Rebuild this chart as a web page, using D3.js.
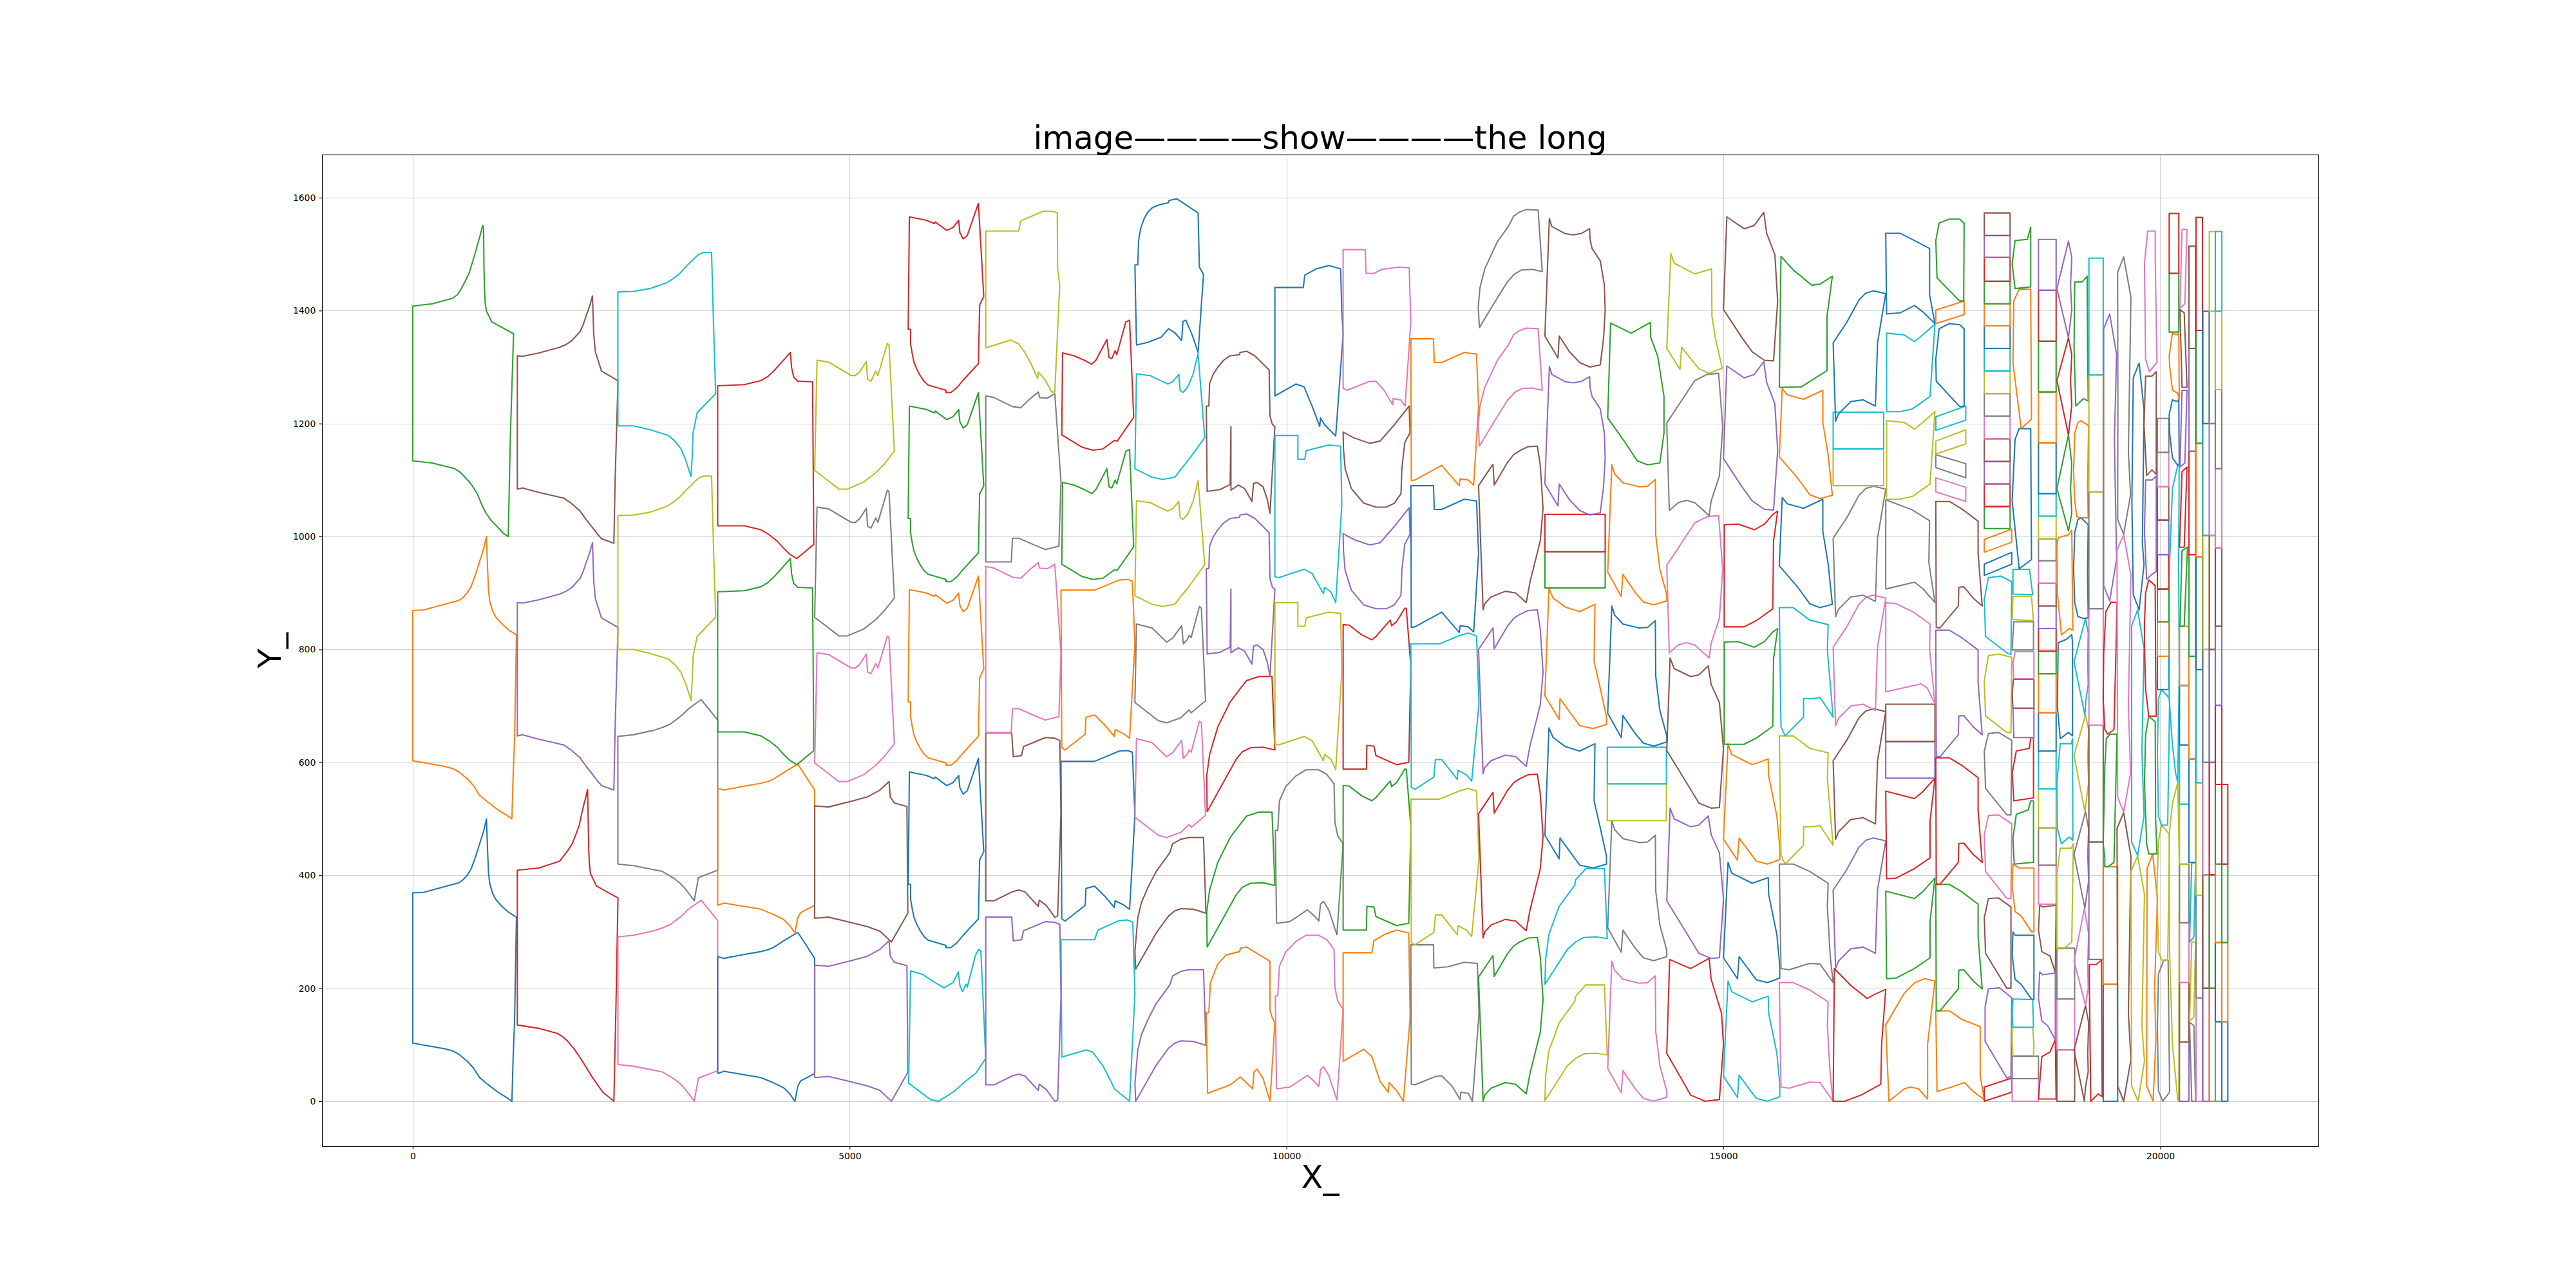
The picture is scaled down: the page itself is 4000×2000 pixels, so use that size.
<!DOCTYPE html>
<html><head><meta charset="utf-8">
<style>html,body{margin:0;padding:0;background:#fff}svg{display:block}text{font-family:"DejaVu Sans",sans-serif}</style>
<script src="https://cdn.jsdelivr.net/npm/d3@7/dist/d3.min.js"></script>
</head><body><div id="chart"></div>
<script>
const titleText = "image————show————the long";
const xLabel = "X_", yLabel = "Y_";
const xTicks = [0,5000,10000,15000,20000];
const yTicks = [0,200,400,600,800,1000,1200,1400,1600];
const xExtent = [0,20771], yExtent = [0,1596.5];

// outlines: [x, y] in data units
const c01a=[[0,369],[130,370],[365,380],[530,387],[575,392],[623,400],[670,412],[717,432],[764,455],[811,478],[844,500],[858,438],[868,403],[882,385],[914,368],[952,357],[1022,345],[1093,335],[1187,326],[1165,138],[1150,82],[1135,0],[1070,7],[975,16],[858,30],[764,42],[694,59],[623,71],[530,83],[459,89],[365,93],[0,103]];
const c01b=[[0,1408],[224,1412],[459,1422],[510,1428],[553,1438],[600,1452],[647,1467],[717,1503],[760,1527],[802,1551],[811,1543],[815,1480],[821,1438],[830,1412],[844,1399],[905,1380],[1154,1359],[1117,1176],[1093,1000],[1040,1005],[976,1016],[900,1028],[835,1042],[785,1058],[741,1075],[680,1090],[623,1101],[550,1113],[482,1120],[224,1130],[0,1134]];
const c02a=[[1197,409],[1446,413],[1681,425],[1775,444],[1825,456],[1869,473],[1908,490],[1940,514],[1975,535],[2001,552],[2015,443],[2022,420],[2034,403],[2104,381],[2349,360],[2326,170],[2302,0],[2240,8],[2175,16],[2120,28],[2057,42],[1985,60],[1916,77],[1850,92],[1775,106],[1720,114],[1658,120],[1446,129],[1197,135]];
const c02b=[[1197,1320],[1258,1319],[1446,1325],[1681,1335],[1755,1340],[1822,1347],[1916,1363],[1955,1377],[1987,1392],[2025,1408],[2057,1426],[2071,1359],[2090,1327],[2160,1293],[2349,1276],[2316,1098],[2302,988],[2230,992],[2161,996],[2110,1005],[2057,1016],[1985,1030],[1916,1045],[1820,1058],[1728,1068],[1446,1078],[1258,1086],[1197,1084]];
const c03a=[[2348,291],[2527,294],[2762,302],[2860,307],[2950,313],[3025,322],[3091,330],[3150,339],[3208,346],[3302,356],[3490,320],[3490,54],[3269,41],[3222,0],[3165,12],[3114,22],[3060,31],[2997,39],[2856,52],[2527,62],[2348,65]];
const c03b=[[2348,1433],[2527,1434],[2715,1439],[2903,1449],[2975,1456],[3044,1464],[3140,1480],[3232,1494],[3280,1500],[3326,1503],[3420,1503],[3443,1373],[3467,1253],[3255,1219],[3208,1183],[3199,1143],[3185,1106],[3125,1135],[3067,1156],[3000,1169],[2926,1179],[2820,1184],[2715,1189],[2527,1196],[2348,1196]];
const c04a=[[3490,256],[3561,253],[3796,260],[3984,265],[4060,268],[4125,272],[4195,279],[4266,286],[4340,293],[4407,299],[4600,253],[4600,49],[4440,36],[4407,27],[4374,0],[4310,14],[4243,24],[4110,34],[3984,42],[3561,53],[3490,49]];
const c04b=[[3490,902],[3796,904],[3984,911],[4060,918],[4125,927],[4225,944],[4322,961],[4336,934],[4360,917],[4407,910],[4576,909],[4590,621],[4396,596],[4312,604],[4240,615],[4171,627],[4080,638],[3984,647],[3796,654],[3490,654]];
const c05a=[[4600,241],[4759,239],[5018,249],[5206,257],[5347,269],[5451,284],[5465,257],[5512,246],[5656,240],[5666,51],[5478,0],[5347,19],[5206,27],[4924,38],[4759,44],[4600,42]];
const c05b=[[4627,794],[4759,791],[4877,780],[5018,767],[5065,767],[5112,773],[5192,792],[5206,760],[5244,757],[5300,775],[5324,767],[5432,824],[5451,821],[5512,633],[5394,610],[5300,595],[5159,578],[4971,566],[4877,566],[4600,599]];
const c06a=[[5698,231],[5830,225],[5947,213],[6079,201],[6183,210],[6244,229],[6262,205],[6291,194],[6333,207],[6347,202],[6361,211],[6441,259],[6479,269],[6502,266],[6558,76],[6441,49],[6347,38],[6183,16],[6018,0],[5924,3],[5675,32]];
const c06b=[[5684,1566],[5877,1560],[5971,1554],[5980,1557],[6112,1542],[6183,1547],[6248,1560],[6262,1538],[6300,1527],[6347,1533],[6418,1565],[6474,1590],[6535,1425],[6488,1410],[6474,1306],[6390,1292],[6300,1277],[6230,1264],[6159,1255],[6103,1255],[6103,1259],[5900,1268],[5850,1275],[5807,1285],[5770,1296],[5736,1309],[5715,1325],[5698,1341],[5698,1367],[5670,1367]];
const c07a=[[6558,652],[6855,652],[6873,610],[6967,612],[6991,628],[7240,644],[7343,643],[7405,639],[7419,511],[7381,328],[7348,326],[7249,347],[7170,356],[7160,345],[7005,371],[6935,374],[6864,371],[6653,355],[6558,355]];
const c07b=[[6558,1249],[6653,1246],[6864,1230],[6958,1228],[7052,1242],[7160,1256],[7174,1246],[7263,1245],[7348,1253],[7419,1096],[7395,983],[7240,977],[7099,986],[6935,997],[6864,997],[6850,955],[6558,955]];
const c07c=[[6558,1541],[6935,1541],[6958,1559],[7217,1576],[7311,1576],[7376,1573],[7381,1474],[7405,1445],[7348,1256],[7311,1256],[7240,1277],[7160,1291],[7151,1280],[7076,1306],[7005,1326],[6935,1341],[6841,1348],[6558,1334]];
const c08a=[[7419,286],[7804,286],[7842,303],[8086,320],[8180,321],[8241,317],[8265,191],[8204,0],[8030,22],[7992,35],[7898,63],[7781,87],[7710,91],[7428,78]];
const c08b=[[7419,905],[7804,905],[8086,923],[8180,924],[8236,921],[8265,809],[8204,643],[8133,651],[8039,658],[8030,646],[7921,666],[7804,684],[7705,680],[7696,650],[7466,622],[7428,626]];
const c08c=[[7437,1325],[7569,1320],[7687,1312],[7771,1305],[7818,1312],[7945,1349],[7969,1317],[8001,1315],[8039,1329],[8058,1322],[8086,1338],[8161,1380],[8204,1383],[8251,1211],[8063,1169],[8030,1170],[7898,1155],[7781,1153],[7663,1158],[7428,1180]];
const c09a=[[8274,234],[8509,298],[8650,328],[8720,337],[8791,341],[8932,340],[9078,333],[9050,467],[8885,467],[8791,464],[8697,456],[8664,440],[8509,407],[8415,379],[8340,352],[8298,325],[8265,265]];
const c09b=[[8283,845],[8462,838],[8627,813],[8697,820],[8800,842],[8819,810],[8862,817],[8885,825],[8909,821],[9003,876],[9026,873],[9073,709],[8909,688],[8885,693],[8791,679],[8627,670],[8533,674],[8265,706]];
const c09c=[[8283,1288],[8438,1285],[8641,1270],[8697,1274],[8768,1287],[8782,1259],[8815,1255],[8871,1265],[8932,1288],[8988,1324],[9064,1175],[8885,1137],[8721,1105],[8650,1103],[8580,1101],[8462,1105],[8265,1120]];
const c09d=[[8265,1481],[8298,1481],[8307,1524],[8330,1545],[8368,1562],[8410,1574],[8462,1582],[8540,1587],[8650,1591],[8655,1595],[8744,1598],[8988,1573],[9003,1477],[9050,1464],[8988,1326],[8918,1358],[8847,1383],[8815,1381],[8800,1347],[8721,1361],[8650,1368],[8565,1353],[8415,1344],[8283,1339]];
const c10a=[[9082,156],[9097,14],[9355,29],[9473,43],[9613,22],[9628,52],[9661,57],[9731,41],[9811,0],[9867,139],[9839,147],[9811,161],[9811,248],[9543,273],[9473,271],[9463,265],[9308,259],[9214,243],[9129,210],[9111,157]];
const c10b=[[9092,513],[9426,606],[9496,619],[9590,626],[9731,627],[9867,622],[9834,752],[9684,752],[9543,745],[9463,729],[9355,707],[9214,663],[9120,614],[9087,576]];
const c10c=[[9082,1231],[9111,1231],[9120,1271],[9160,1287],[9214,1300],[9280,1312],[9355,1320],[9463,1322],[9468,1326],[9543,1328],[9637,1320],[9801,1295],[9811,1213],[9839,1198],[9867,1195],[9811,1041],[9778,1067],[9731,1088],[9661,1096],[9623,1094],[9604,1062],[9520,1085],[9449,1091],[9364,1082],[9364,1195],[9355,1092],[9237,1083],[9092,1080]];
const c11a=[[9886,315],[10036,318],[10154,330],[10239,339],[10319,328],[10370,319],[10389,349],[10422,354],[10483,339],[10577,295],[10648,456],[10586,470],[10554,494],[10544,562],[10460,579],[10366,587],[10225,587],[10107,576],[9990,557],[9919,532],[9900,480],[9872,479]];
const c11b=[[9867,1179],[10130,1179],[10130,1137],[10210,1137],[10225,1152],[10483,1162],[10619,1160],[10633,1056],[10563,883],[10507,902],[10436,910],[10422,899],[10295,934],[10201,942],[9910,927],[9867,929]];
const c11c=[[9867,1441],[10192,1441],[10210,1463],[10342,1474],[10483,1480],[10619,1474],[10633,1399],[10648,1358],[10563,1178],[10436,1198],[10389,1210],[10380,1195],[10295,1230],[10201,1265],[10107,1270],[9867,1249]];
const c12a=[[10648,263],[10977,263],[11000,284],[11117,295],[11259,303],[11399,298],[11415,150],[11338,0],[11259,19],[11174,33],[11165,16],[11071,35],[10977,79],[10883,92],[10648,71]];
const c12b=[[10648,844],[10718,843],[10859,826],[10977,817],[11024,823],[11188,852],[11202,842],[11259,849],[11353,873],[11371,873],[11423,770],[11399,600],[11259,596],[11024,612],[11000,629],[10920,630],[10915,588],[10648,588]];
const c12c=[[10648,1185],[10765,1175],[10953,1165],[11071,1169],[11235,1198],[11404,1231],[11414,1184],[11353,1166],[11320,1120],[11310,1076],[11235,1059],[11141,1052],[11024,1052],[10883,1059],[10742,1085],[10671,1120],[10652,1155]];
const c12d=[[10648,1508],[10901,1508],[10911,1466],[11000,1466],[11094,1473],[11282,1477],[11404,1476],[11423,1381],[11357,1231],[11305,1242],[11221,1244],[11216,1233],[11117,1259],[11024,1275],[10953,1275],[10695,1259],[10648,1262]];
const c13a=[[11423,277],[11682,277],[11686,236],[11846,238],[12034,246],[12184,244],[12203,156],[12128,0],[12081,14],[11996,16],[11987,3],[11893,27],[11776,45],[11705,44],[11470,29],[11428,30]];
const c13b=[[11423,535],[11752,535],[11987,550],[12081,554],[12175,549],[12203,429],[12119,292],[12058,303],[11963,311],[11954,295],[11776,330],[11705,330],[11686,299],[11470,277],[11428,281]];
const c13c=[[11423,1350],[11682,1350],[11691,1308],[11776,1308],[12034,1326],[12175,1323],[12198,1230],[12142,1091],[12081,1100],[11987,1102],[11977,1090],[11776,1126],[11470,1100],[11428,1099]];
const c14a=[[12198,1090],[12363,1128],[12377,1091],[12528,1131],[12600,1145],[12669,1152],[12763,1159],[12871,1160],[12904,1126],[12936,1050],[12904,992],[12786,919],[12744,883],[12622,900],[12504,903],[12340,893],[12269,881],[12250,870]];
const c14b=[[12208,1370],[12363,1410],[12528,1451],[12610,1465],[12692,1472],[12810,1473],[12927,1469],[12880,1578],[12739,1579],[12660,1574],[12598,1567],[12542,1550],[12410,1521],[12269,1474],[12213,1440],[12194,1405]];
const c15a=[[12957,1],[13215,63],[13310,76],[13403,84],[13544,85],[13671,82],[13638,206],[13427,206],[13309,186],[13300,177],[13121,139],[13004,90],[12966,46]];
const c15b=[[13004,661],[13051,644],[13192,628],[13356,620],[13530,633],[13520,532],[13591,484],[13662,434],[13662,420],[13511,413],[13356,418],[13130,466],[13121,429],[12957,471]];
const c15c=[[13008,1563],[13036,1549],[13192,1536],[13286,1534],[13380,1537],[13469,1545],[13474,1526],[13497,1510],[13591,1488],[13638,1445],[13647,1401],[13629,1352],[13591,1304],[13474,1300],[13356,1308],[13239,1327],[13121,1355],[13107,1316],[12957,1355]];
const c16a=[[13723,248],[13755,232],[13850,216],[14038,209],[14132,210],[14221,222],[14226,123],[14273,63],[14352,18],[14352,7],[14202,0],[14085,5],[13991,22],[13850,54],[13831,15],[13676,58]];
const c16b=[[13709,1378],[13944,1360],[14164,1379],[14169,1352],[14249,1319],[14320,1248],[14320,1183],[14272,1130],[14132,1127],[14014,1134],[13873,1167],[13676,1210]];
const c17a=[[14385,251],[14625,235],[14837,253],[14860,216],[14978,156],[15001,101],[14954,3],[14790,0],[14625,11],[14352,85]];
const c17b=[[14390,519],[14437,500],[14625,486],[14719,489],[14827,505],[14860,472],[14954,440],[15001,358],[14954,254],[14860,253],[14719,262],[14602,292],[14352,355]];
const c17c=[[14352,1201],[14531,1243],[14672,1276],[14813,1287],[14945,1289],[14992,1194],[14954,1107],[14860,1063],[14837,1037],[14672,1060],[14578,1064],[14484,1060],[14381,1046]];
const c17d=[[14399,1501],[14437,1484],[14672,1465],[14865,1474],[14869,1390],[14907,1352],[14987,1298],[14837,1289],[14719,1297],[14522,1335],[14503,1296],[14352,1333]];
const c18a=[[15053,213],[15095,194],[15330,176],[15513,186],[15518,156],[15612,85],[15645,30],[15645,8],[15504,0],[15377,5],[15180,46],[15161,7],[15001,44]];
const c18b=[[15010,1021],[15166,1022],[15354,1012],[15471,1022],[15565,1039],[15621,1045],[15574,992],[15565,872],[15377,851],[15236,840],[15010,840]];
const c18c=[[15039,1566],[15236,1545],[15354,1551],[15462,1574],[15495,1537],[15589,1499],[15621,1417],[15574,1311],[15471,1312],[15330,1327],[15213,1352],[15001,1402]];
const c19a=[[15640,210],[15800,210],[15988,197],[16199,176],[16190,134],[16223,46],[16256,0],[16106,33],[15988,34],[15753,23],[15659,25]];
const c19b=[[15640,647],[15800,647],[15988,625],[16199,617],[16190,571],[16256,453],[16106,488],[16030,486],[15917,486],[15917,453],[15706,420],[15659,436]];
const c19c=[[15673,1069],[15730,1058],[15918,1050],[16138,1066],[16138,1009],[16200,950],[16247,880],[16106,874],[15988,881],[15847,911],[15640,948]];
const c19d=[[15659,1496],[15800,1472],[16012,1445],[16106,1447],[16247,1461],[16186,1390],[16186,1294],[15894,1265],[15640,1264]];
const c20a=[[16270,235],[16458,205],[16646,182],[16740,190],[16858,198],[16811,101],[16801,30],[16576,11],[16388,0],[16256,0]];
const c20b=[[16256,374],[16411,410],[16552,450],[16630,462],[16717,466],[16858,461],[16764,374],[16740,262],[16599,273],[16458,270],[16317,248],[16284,235]];
const c21a=[[16895,0],[17069,22],[17140,25],[17234,22],[17337,4],[17337,101],[17421,213],[17304,217],[17187,210],[17069,191],[16858,135]];
const c21b=[[16858,372],[17187,359],[17281,371],[17421,395],[17365,319],[17365,254],[17187,235],[16975,218],[16868,217]];
const c21c=[[16858,883],[16975,881],[17165,867],[17365,845],[17360,800],[17421,704],[17332,732],[17262,739],[16858,725]];
const c21d=[[16858,1065],[17163,1047],[17360,1028],[17351,954],[17421,883],[17281,908],[17187,919],[16858,907]];
const c21e=[[16868,1205],[17069,1202],[17187,1190],[17281,1202],[17421,1221],[17365,1093],[17163,1071],[17022,1066],[16868,1066]];
const c21f=[[16858,1537],[17022,1537],[17163,1526],[17360,1510],[17360,1428],[17421,1377],[17281,1398],[17187,1409],[17022,1396],[16868,1394]];
const c22a=[[17431,160],[17586,160],[17727,145],[17939,132],[17939,46],[17986,3],[17868,16],[17760,33],[17610,25],[17445,17]];
const c22b=[[17431,384],[17586,384],[17727,371],[17915,349],[17915,292],[17962,199],[17859,213],[17751,233],[17694,232],[17689,199],[17478,160],[17436,161]];
const c22c=[[17431,1104],[17774,1087],[17774,1062],[17431,1079]];
const c22d=[[17431,1145],[17774,1129],[17774,1104],[17431,1122]];
const c22e=[[17431,1169],[17774,1189],[17774,1164],[17431,1146]];
const c22f=[[17431,1212],[17774,1231],[17774,1206],[17431,1188]];
const c22g=[[17469,1368],[17586,1377],[17704,1375],[17755,1368],[17755,1231],[17704,1230],[17436,1275],[17431,1314]];
const c22h=[[17431,1401],[17755,1417],[17755,1393],[17431,1377]];
const c22i=[[17469,1555],[17586,1562],[17704,1562],[17755,1555],[17750,1417],[17704,1417],[17445,1458],[17431,1524]];
const c23a=[[17986,25],[18300,41],[18300,16],[17986,0]];
const c23b=[[17995,106],[17995,167],[18033,199],[18159,201],[18300,183],[18291,44],[18244,41]];
const c23c=[[18033,359],[18150,360],[18291,344],[18291,200],[18244,200],[18000,262],[17986,325]];
const c23d=[[18033,506],[18150,507],[18300,491],[18291,359],[18244,359],[18000,407],[17986,472]];
const c23e=[[18033,651],[18150,653],[18300,639],[18291,507],[18244,507],[18000,554],[17986,620]];
const c23f=[[18033,789],[18150,792],[18300,786],[18291,653],[18244,653],[18000,682],[17986,745]];
const c23g=[[18033,927],[18174,930],[18300,920],[18291,791],[18244,794],[18000,823],[17986,889]];
const c23h=[[17986,951],[18300,972],[18300,951],[17986,931]];
const c23i=[[17986,995],[18300,1013],[18300,990],[17986,972]];
const c24a=[[18305,131],[18540,131],[18554,100],[18549,81],[18314,81],[18305,100]];
const c24b=[[18314,181],[18540,180],[18549,131],[18314,131],[18305,155]];
const c24c=[[18314,300],[18338,294],[18554,294],[18554,180],[18526,181],[18408,207],[18338,216],[18305,259]];
const c24d=[[18314,420],[18385,413],[18554,413],[18554,300],[18526,300],[18408,328],[18338,336],[18305,380]];
const c24e=[[18328,420],[18549,423],[18549,532],[18517,532],[18489,516],[18352,508],[18314,466]];
const c24f=[[18324,532],[18549,537],[18549,644],[18517,644],[18503,625],[18352,620],[18305,581]];
const c24g=[[18324,644],[18554,644],[18554,696],[18314,696]];
const c24h=[[18314,696],[18554,696],[18554,747],[18320,747],[18305,720]];
const c24i=[[18324,748],[18554,748],[18554,796],[18338,796],[18314,775]];
const c24j=[[18324,849],[18549,849],[18549,799],[18305,799],[18314,825]];
const c24k=[[18314,894],[18526,894],[18549,851],[18305,853]];
const c24l=[[18314,942],[18503,942],[18540,897],[18314,898]];
const c24m=[[18338,1172],[18385,1191],[18517,1191],[18526,959],[18385,943],[18305,1063]];
const c24n=[[18324,1417],[18385,1438],[18517,1438],[18526,1208],[18408,1191],[18314,1308]];
const c24o=[[18338,1524],[18479,1526],[18517,1548],[18517,1442],[18338,1439],[18305,1483]];
const c25a=[[18620,4],[18808,4],[18799,109],[18738,87],[18644,79],[18606,4]];
const c25b=[[18620,229],[18653,224],[18799,227],[18799,109],[18710,134],[18644,142],[18606,183]];
const c25c=[[18620,347],[18653,344],[18808,347],[18799,228],[18738,257],[18644,265],[18606,303]];
const c26a=[[18817,270],[18892,270],[18987,282],[19005,456],[18982,448],[18855,448],[18817,401],[18817,319]];
const c26b=[[18855,633],[18982,633],[18996,642],[19000,462],[18958,468],[18869,456],[18822,483],[18817,565]];
const c26c=[[18831,812],[18925,818],[18987,826],[18996,811],[18996,647],[18949,653],[18855,642],[18822,700]];
const c26d=[[18831,998],[18949,1003],[18987,1011],[19000,834],[18958,837],[18869,826],[18822,900],[18817,981]];
const c26e=[[18949,1180],[18987,1129],[18973,1085],[18987,1041],[18949,1010],[18817,1085]];
const c26f=[[18949,1352],[18987,1322],[18973,1276],[18987,1232],[18949,1180],[18817,1276]];
const c26g=[[18949,1523],[18987,1494],[18973,1445],[18987,1401],[18949,1352],[18817,1439]];
const c27a=[[19144,170],[19180,139],[19170,85],[19175,52],[19144,25],[19131,0],[19013,90]];
const c27b=[[19131,341],[19180,297],[19170,243],[19175,199],[19144,170],[19013,248]];
const c27c=[[19144,513],[19180,482],[19170,437],[19180,390],[19137,342],[19013,437]];
const c27d=[[19144,684],[19180,658],[19170,609],[19180,565],[19137,513],[19013,612]];
const c27e=[[19144,855],[19175,829],[19170,780],[19175,738],[19147,708],[19137,684],[19013,778]];
const c27f=[[19094,1033],[19058,1030],[19021,1007],[19008,943],[19021,883],[19058,858],[19119,855],[19175,856],[19168,936],[19175,1021]];
const c27g=[[19094,1205],[19058,1202],[19021,1183],[19008,1116],[19021,1063],[19045,1035],[19094,1033],[19175,1033],[19168,1090],[19180,1196]];
const c27h=[[19021,1451],[19107,1451],[19163,1461],[19168,1335],[19175,1240],[19119,1244],[19033,1231],[19013,1335]];
const c28a=[[19188,242],[19266,242],[19328,250],[19335,8],[19291,13],[19205,0],[19188,210]];
const c29a=[[19365,416],[19397,415],[19470,423],[19505,650],[19426,650],[19382,642],[19365,592],[19347,456],[19365,431]];
const c29b=[[19397,650],[19470,658],[19495,811],[19505,883],[19438,884],[19377,867],[19352,791],[19347,712],[19365,658]];
const c29c=[[19421,1394],[19500,1322],[19475,1172],[19500,960],[19421,886],[19352,913],[19352,1145],[19352,1368]];
const c30a=[[19581,511],[19664,434],[19635,156],[19664,74],[19581,0],[19512,27],[19505,483]];
const c30b=[[19581,1003],[19664,932],[19635,700],[19660,581],[19581,512],[19512,538],[19505,976]];
const c30c=[[19581,1495],[19664,1424],[19635,1150],[19660,1074],[19581,1004],[19512,1030],[19515,1227],[19512,1468]];
const c31a=[[19741,434],[19819,366],[19790,134],[19819,71],[19746,0],[19672,27],[19664,407]];
const c31b=[[19741,870],[19814,802],[19790,620],[19814,505],[19741,435],[19672,459],[19672,842]];
const c31c=[[19758,1307],[19814,1224],[19795,987],[19814,951],[19758,870],[19691,897],[19675,1060],[19691,1281]];
const c32a=[[19913,438],[19967,358],[19935,200],[19950,110],[19918,0],[19844,27],[19849,412]];
const c32b=[[19868,682],[19942,672],[19947,500],[19962,438],[19868,438],[19844,456],[19819,565],[19832,649]];
const c32c=[[19868,923],[19942,913],[19947,760],[19954,682],[19868,682],[19832,729],[19819,811],[19819,845],[19832,900]];
const c32d=[[19832,1100],[19893,1100],[19905,1100],[19954,1107],[19954,938],[19905,933],[19844,924],[19819,1009]];
const c32e=[[19832,1284],[19905,1284],[19954,1292],[19954,1110],[19905,1118],[19844,1108],[19814,1199]];
const c32f=[[19856,1541],[19942,1541],[19942,1491],[19962,1308],[19876,1292],[19832,1314],[19819,1483]];
const c33a=[[20040,250],[20090,250],[20107,16],[20028,0],[19979,19],[19967,128],[19979,225]];
const c33b=[[20016,489],[20107,472],[20085,250],[20016,250],[19979,265],[19962,374],[19979,461]];
const c33c=[[20016,729],[20107,713],[20085,489],[20016,489],[19979,505],[19967,620],[19979,713]];
const c34a=[[20102,472],[20139,527],[20200,565],[20217,429],[20212,0],[20200,3],[20139,101],[20107,265]];
const c34b=[[20200,1126],[20139,1085],[20107,954],[20102,713],[20139,631],[20175,581],[20200,565],[20217,756],[20210,950],[20217,1129]];
const c34c=[[20139,1242],[20188,1239],[20212,1242],[20217,1129],[20200,1126],[20139,1139],[20107,1183],[20102,1216]];
const c34d=[[20139,1360],[20188,1357],[20212,1360],[20217,1243],[20200,1254],[20139,1259],[20107,1303],[20102,1319]];
const c35a=[[20225,841],[20274,841],[20311,981],[20249,975]];
const c35b=[[20220,981],[20274,981],[20306,1123],[20249,1115]];
const c35c=[[20225,1123],[20281,1130],[20306,1259],[20249,1259]];
const c35d=[[20225,1402],[20274,1396],[20306,1264],[20249,1264]];
const c35e=[[20249,1544],[20306,1544],[20281,1412],[20225,1404]];
const c36a=[[20360,0],[20404,0],[20384,134],[20335,140]];
const c36b=[[20335,142],[20384,149],[20404,282],[20360,282]];
const c36c=[[20335,282],[20384,291],[20404,422],[20360,422]];

// stacked boxes: left x, right x, edges from bottom to top
const box15=[12957,13647,[909,973,1039]];
const box16=[13671,14348,[497,562,627]];
const box20=[16256,16834,[1090,1155,1220]];
const box21=[16858,17421,[572,637,703]];
const box23=[17986,18281,[1014,1053,1093,1133,1173,1213,1253,1293,1333,1373,1412,1452,1494,1533,1573]];
const box24=[18305,18606,[0,40,80]];
const box25=[18606,18808,[349,418,484,553,620,688,757,797,837,877,917,957,996,1036,1076,1166,1256,1346,1436,1526]];
const box26=[18817,19020,[0,91,181,271]];
const box28=[19183,19347,[251,459,666,872,1079,1286,1493]];
const box29=[19347,19512,[0,207,415]];
const box33=[19967,20097,[729,788,849,907,968,1029,1088,1149,1209]];
const box34=[20102,20212,[1362,1466,1572]];
const box35=[20220,20328,[0,105,210,316,420,526,631,736,841]];
const box36=[20328,20404,[423,606,788,968,1151,1333,1514]];
const box37=[20409,20483,[0,183,365,564,764,964,1165,1365,1565]];
const box38=[20487,20561,[0,200,401,600,800,1002,1200,1399]];
const box39=[20561,20630,[0,200,401,600,800,1002,1200,1399,1540]];
const box40=[20630,20704,[0,141,281,420,561,701,841,980,1120,1260,1399,1540]];
const box41=[20704,20773,[0,141,281,420,561]];

// drawing order: [outline, vertical shifts]; colours follow the cycle
const drawOrder=[
[c01a,0,500],[c01b,0],[c02a,0],[c02b,-437,0],[c03a,0,355],[c03b,-396,0],[c04a,0,298],[c04b,0,365],
[c05a,0,282],[c05b,0,258,518],[c06a,0],[c06b,-983,-660,-335,0],[c07a,-326,0],[c07b,-302,0],[c07c,0],
[c08a,0],[c08b,-303,0],[c08c,-229,0],[c09a,-234,0],[c09b,-203,0],[c09c,-225,0],[c09d,0],
[c10a,0],[c10b,-240,0],[c10c,-288,0],[c11a,-293,0],[c11b,-296,0],[c11c,0],
[c12a,0],[c12b,-285,0],[c12c,-180,0],[c12d,0],[c13a,0],[c13b,0,275],[c13c,-260,0],
[c14a,-870,-581,-290,0],[c14b,-210,0],[c15a,0,206],[c15b,0,247],box15,[c15c,-262,0],
[c16a,0,249],box16,[c16a,629,879],[c16b,0],[c17a,0],[c17b,0,266],[c17c,-252,0],[c17d,0],
[c18a,0,210,420],[c18b,-208,0],[c18c,-264,0],[c19a,0,210],[c19b,0,227],[c19c,0,193],[c19d,0],
[c20a,0],[c20b,0,229,430,623],box20,[c20b,969],[c21a,0],[c21b,0,177],box21,[c21c,0],[c21d,0],[c21e,0,155],[c21f,0],
[c22a,0],[c22b,0,224,450,678],[c22c,0],[c22d,0],[c22e,0],[c22f,0],[c22g,0],[c22h,0],[c22i,0],
[c23a,0],[c23b,0],[c23c,0],[c23d,0],[c23e,0],[c23f,0],[c23g,0],[c23h,0],[c23i,0],box23,
box24,[c24a,0],[c24b,0],[c24c,0],[c24d,0],[c24e,0],[c24f,0],[c24g,0],[c24h,0],[c24i,0],[c24j,0],[c24k,0],[c24l,0],[c24m,0],[c24n,0],[c24o,0],
[c25a,0],[c25b,0],[c25c,0],box25,box26,[c26a,0],[c26b,0],[c26c,0],[c26d,0],[c26e,0],[c26f,0],[c26g,0],
[c27a,0],[c27b,0],[c27c,0],[c27d,0],[c27e,0],[c27f,0],[c27g,0],[c27h,0],[c28a,0],box28,box29,[c29a,0],[c29b,0],[c29c,0],
[c30a,0],[c30b,0],[c30c,0],[c31a,0],[c31b,0],[c31c,0],[c32a,0],[c32b,0],[c32c,0],[c32d,0],[c32e,0],[c32f,0],
[c33a,0],[c33b,0],[c33c,0],box33,[c34a,0],[c34b,0],[c34c,0],[c34d,0],box34,box35,[c35a,0],[c35b,0],[c35c,0],[c35d,0],[c35e,0],
[c36a,0],[c36b,0],[c36c,0],box36,box37,box38,box39,box40,box41
];

const W=4000,H=2000,L=500,R=3600,T=240,B=1780;
const xPad=(xExtent[1]-xExtent[0])*0.05, yPad=(yExtent[1]-yExtent[0])*0.05;
const x=d3.scaleLinear().domain([xExtent[0]-xPad,xExtent[1]+xPad]).range([L,R]);
const y=d3.scaleLinear().domain([yExtent[0]-yPad,yExtent[1]+yPad]).range([B,T]);

const outlines=[];
drawOrder.forEach(item=>{
  if(typeof item[0]==="number"){
    const [x0,x1,ys]=item;
    for(let i=0;i<ys.length-1;i++) outlines.push([[x0,ys[i]],[x1,ys[i]],[x1,ys[i+1]],[x0,ys[i+1]]]);
  } else {
    const [pts,...shifts]=item;
    shifts.forEach(s=>outlines.push(pts.map(p=>[p[0],p[1]+s])));
  }
});

const svg=d3.select("#chart").append("svg").attr("width",W).attr("height",H);
const grid="#b0b0b0";
svg.append("g").selectAll("line").data(xTicks).join("line")
  .attr("x1",d=>Math.round(x(d))+.5).attr("x2",d=>Math.round(x(d))+.5).attr("y1",T).attr("y2",B)
  .attr("stroke",grid).attr("stroke-opacity",.6).attr("stroke-width",1.1);
svg.append("g").selectAll("line").data(yTicks).join("line")
  .attr("y1",d=>Math.round(y(d))+.5).attr("y2",d=>Math.round(y(d))+.5).attr("x1",L).attr("x2",R)
  .attr("stroke",grid).attr("stroke-opacity",.6).attr("stroke-width",1.1);

const line=d3.line().x(d=>x(d[0])).y(d=>y(d[1])).curve(d3.curveLinearClosed);
svg.append("g").attr("fill","none").attr("stroke-width",2.08).attr("stroke-linejoin","round")
  .selectAll("path").data(outlines).join("path")
  .attr("d",line).attr("stroke",(d,i)=>d3.schemeCategory10[i%10]);

const ax=svg.append("g").attr("transform",`translate(0,${B})`)
  .call(d3.axisBottom(x).tickValues(xTicks).tickFormat(d3.format("d")).tickSize(4.86).tickPadding(4.86));
const ay=svg.append("g").attr("transform",`translate(${L},0)`)
  .call(d3.axisLeft(y).tickValues(yTicks).tickFormat(d3.format("d")).tickSize(4.86).tickPadding(4.86));
[ax,ay].forEach(g=>{
  g.select(".domain").remove();
  g.selectAll("line").attr("stroke","#000").attr("stroke-width",1.1);
  g.selectAll("text").attr("fill","#000").style("font-size","13.9px").style("font-family",'"DejaVu Sans"');
});
svg.append("rect").attr("x",L+.5).attr("y",T+.5).attr("width",R-L).attr("height",B-T)
  .attr("fill","none").attr("stroke","#000").attr("stroke-width",1.1);

svg.append("text").attr("x",(L+R)/2).attr("y",231).attr("text-anchor","middle").style("font-size","50px").text(titleText);
svg.append("text").attr("x",(L+R)/2).attr("y",1845).attr("text-anchor","middle").style("font-size","50px").text(xLabel);
svg.append("text").attr("transform",`translate(436,${(T+B)/2}) rotate(-90)`).attr("text-anchor","middle").style("font-size","50px").text(yLabel);
</script></body></html>
